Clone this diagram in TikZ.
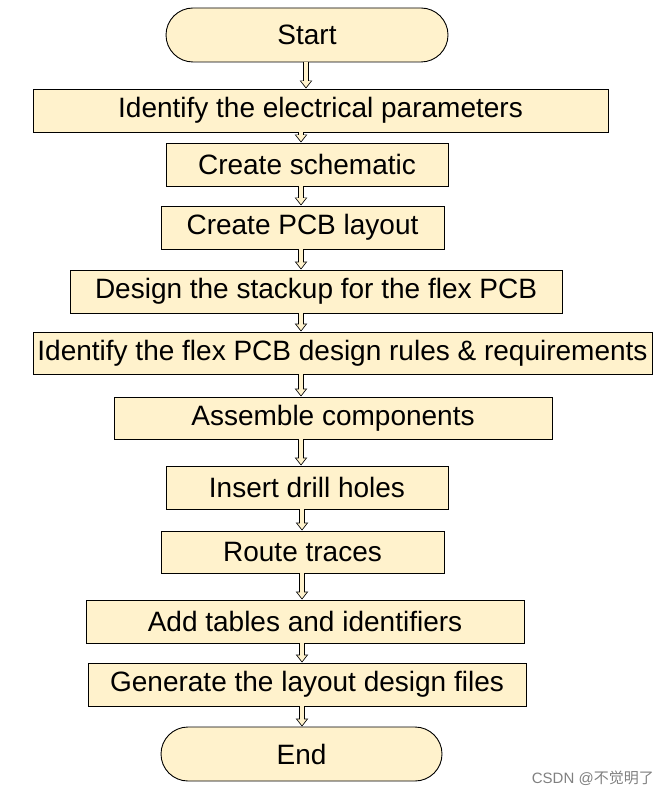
\documentclass[tikz,border=0pt]{standalone}
\usepackage{fontspec}
\setmainfont{Liberation Sans}
\newfontfamily\cjk{Noto Sans CJK SC}
\usetikzlibrary{arrows.meta,shapes.misc}
\definecolor{cream}{HTML}{FFF2CC}
\begin{document}
\begin{tikzpicture}[x=1pt,y=-1pt,
  box/.style={draw=black,line width=0.9pt,fill=cream,inner sep=0pt,font=\fontsize{28}{32}\selectfont},
  term/.style={box,rounded rectangle},
  fat/.style={draw=black,line width=6.5pt,-{Triangle[length=8pt,width=12pt]},
    postaction={draw=cream,line width=4.5pt,shorten >=1.3pt,-{Triangle[length=6pt,width=9pt]}}}]
\useasboundingbox (0,0) rectangle (664,794);
\def\bx#1#2#3#4#5#6{\node[box,minimum width=#4-#3,minimum height=#6-#5] (#1) at ({(#3+#4)/2},{(#5+#6)/2}) {#2};}
\node[term,minimum width=282,minimum height=54] (s) at (307,35) {Start};
\bx{b1}{Identify the electrical parameters}{33}{608}{89}{132}
\bx{b2}{Create schematic}{166}{448}{143}{186}
\bx{b3}{Create PCB layout}{161}{444}{206}{249}
\bx{b4}{Design the stackup for the flex PCB}{70}{562}{270}{313}
\bx{b5}{Identify the flex PCB design rules \& requirements}{33}{652}{332}{374}
\bx{b6}{Assemble components}{114}{552}{397}{439}
\bx{b7}{Insert drill holes}{166}{448}{466}{509}
\bx{b8}{Route traces}{161}{444}{531}{573}
\bx{b9}{Add tables and identifiers}{86}{524}{600}{643}
\bx{b10}{Generate the layout design files}{88}{526}{663}{706}
\node[term,minimum width=281,minimum height=54] (e) at (301.5,754) {End};
\foreach \a/\b/\x in {s/b1/306,b1/b2/301,b2/b3/301,b3/b4/301,b4/b5/301,b5/b6/301,b6/b7/301,b7/b8/302,b8/b9/302,b9/b10/302,b10/e/302}
  \draw[fat] (\a.south -| \x,0) -- (\b.north -| \x,0);
\node[anchor=south east,text=gray,font=\fontsize{15}{17}\selectfont,inner sep=2pt] (wm) at (656,788) {CSDN @{\cjk 不觉明了}};
\end{tikzpicture}
\end{document}
